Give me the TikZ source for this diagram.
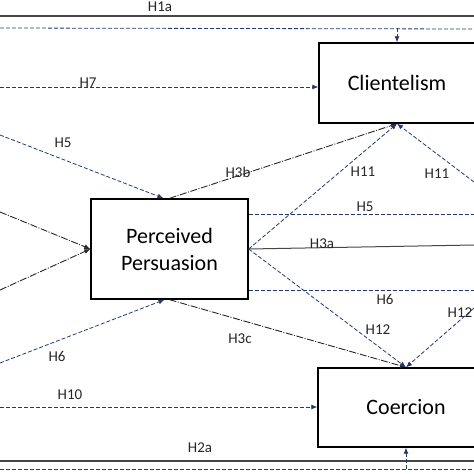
\documentclass[tikz,border=0pt]{standalone}
\usepackage{fontspec}
\setmainfont{Carlito}
\usepackage{xcolor}
\usetikzlibrary{arrows.meta,calc}
\definecolor{navy}{RGB}{38,56,112}
\definecolor{linegray}{RGB}{70,70,70}

\begin{document}
\begin{tikzpicture}[x=1pt, y=-1pt,
    box/.style={draw=black, line width=1.4pt, fill=white, inner sep=0pt, font=\fontsize{22}{27}\selectfont, align=center},
    lab/.style={inner sep=0pt, text=black!85, font=\fontsize{15}{17}\selectfont},
    dline/.style={navy, line width=0.8pt, dash pattern=on 4pt off 2pt},
    sline/.style={linegray, line width=1.3pt},
    dotline/.style={black!85, line width=0.9pt, dash pattern=on 7pt off 1.5pt on 1pt off 1.5pt},
    arr/.style={-{Latex[length=6pt,width=5pt]}}]
    \useasboundingbox (0,0) rectangle (474,474);
    \clip (0,0) rectangle (474,474);

    % Constructs
    \node[box, minimum width=156pt, minimum height=80pt] (cli) at (397,83) {Clientelism};
    \node[box, minimum width=157pt, minimum height=100pt] (per) at (169.5,249) {Perceived\\Persuasion};
    \node[box, minimum width=176pt, minimum height=79pt] (coe) at (406,407.5) {Coercion};

    % Free ends at the edges
    \coordinate (topL) at (0,16);     \coordinate (topR) at (474,16);
    \coordinate (h1aL) at (0,28);     \coordinate (h1aR) at (474,29);
    \coordinate (h7L) at (0,87);
    \coordinate (h5L) at (0,135);
    \coordinate (inA) at (0,212);     \coordinate (inB) at (0,290);
    \coordinate (h11R) at (474,182);
    \coordinate (h5R) at (474,214);
    \coordinate (h3aR) at (474,245);
    \coordinate (h6R) at (474,290);
    \coordinate (h12R) at (474,308);
    \coordinate (h6L) at (0,363);
    \coordinate (h10L) at (0,407);
    \coordinate (botL) at (0,461);    \coordinate (botR) at (474,461);
    \coordinate (h2aL) at (0,469);    \coordinate (h2aR) at (474,469);

    % Top paths into Clientelism
    \draw[sline] (topL) -- (topR);
    \draw[dline] (h1aL) -- (h1aR);
    \draw[dline, arr] (cli.north |- h1aL) -- (cli.north);
    \draw[dline, arr] (h7L) -- (h7L -| cli.west);

    % Into Perceived Persuasion
    \draw[dline, arr] (h5L) -- ([xshift=-6pt]per.north);
    \draw[dotline, arr] (inA) -- (per.west);
    \draw[dotline, arr] (inB) -- (per.west);
    \draw[dline, arr] (h6L) -- ([xshift=-5pt]per.south);

    % Out of Perceived Persuasion
    \draw[dotline, arr] (per.north) -- (cli.south);
    \draw[dotline, arr] (per.south) -- (coe.north);
    \draw[dline, arr] (per.east) -- (cli.south);
    \draw[dline, arr] (per.east) -- (coe.north);
    \draw[sline, line width=1pt] (per.east) -- (h3aR);
    \draw[dline] (h5R -| per.east) -- (h5R);
    \draw[dline] (h6R -| per.east) -- (h6R);

    % From the right
    \draw[dline, arr] (h11R) -- (cli.south);
    \draw[dline, arr] (h12R) -- (coe.north);

    % Bottom paths into Coercion
    \draw[dline, arr] (h10L) -- (h10L -| coe.west);
    \draw[sline] (botL) -- (botR);
    \draw[dline] (h2aL) -- (h2aR);
    \draw[dline, arr] (coe.south |- h2aL) -- (coe.south);

    % Labels
    \node[lab] (l1a) at (160,7) {H1a};
    \node[lab] (l7) at (88,83) {H7};
    \node[lab] (l5a) at (63,143) {H5};
    \node[lab] (l3b) at (238,172) {H3b};
    \node[lab] (l11a) at (363,172) {H11};
    \node[lab] (l11b) at (437,174) {H11};
    \node[lab] (l5b) at (365,207) {H5};
    \node[lab] (l3a) at (322,244) {H3a};
    \node[lab] (l6a) at (385,299) {H6};
    \node[lab] (l12a) at (378,330) {H12};
    \node[lab] (l12b) at (460,313) {H12};
    \node[lab] (l3c) at (240,339) {H3c};
    \node[lab] (l6b) at (57,356) {H6};
    \node[lab] (l10) at (70,395) {H10};
    \node[lab] (l2a) at (200,448) {H2a};
\end{tikzpicture}
\end{document}
